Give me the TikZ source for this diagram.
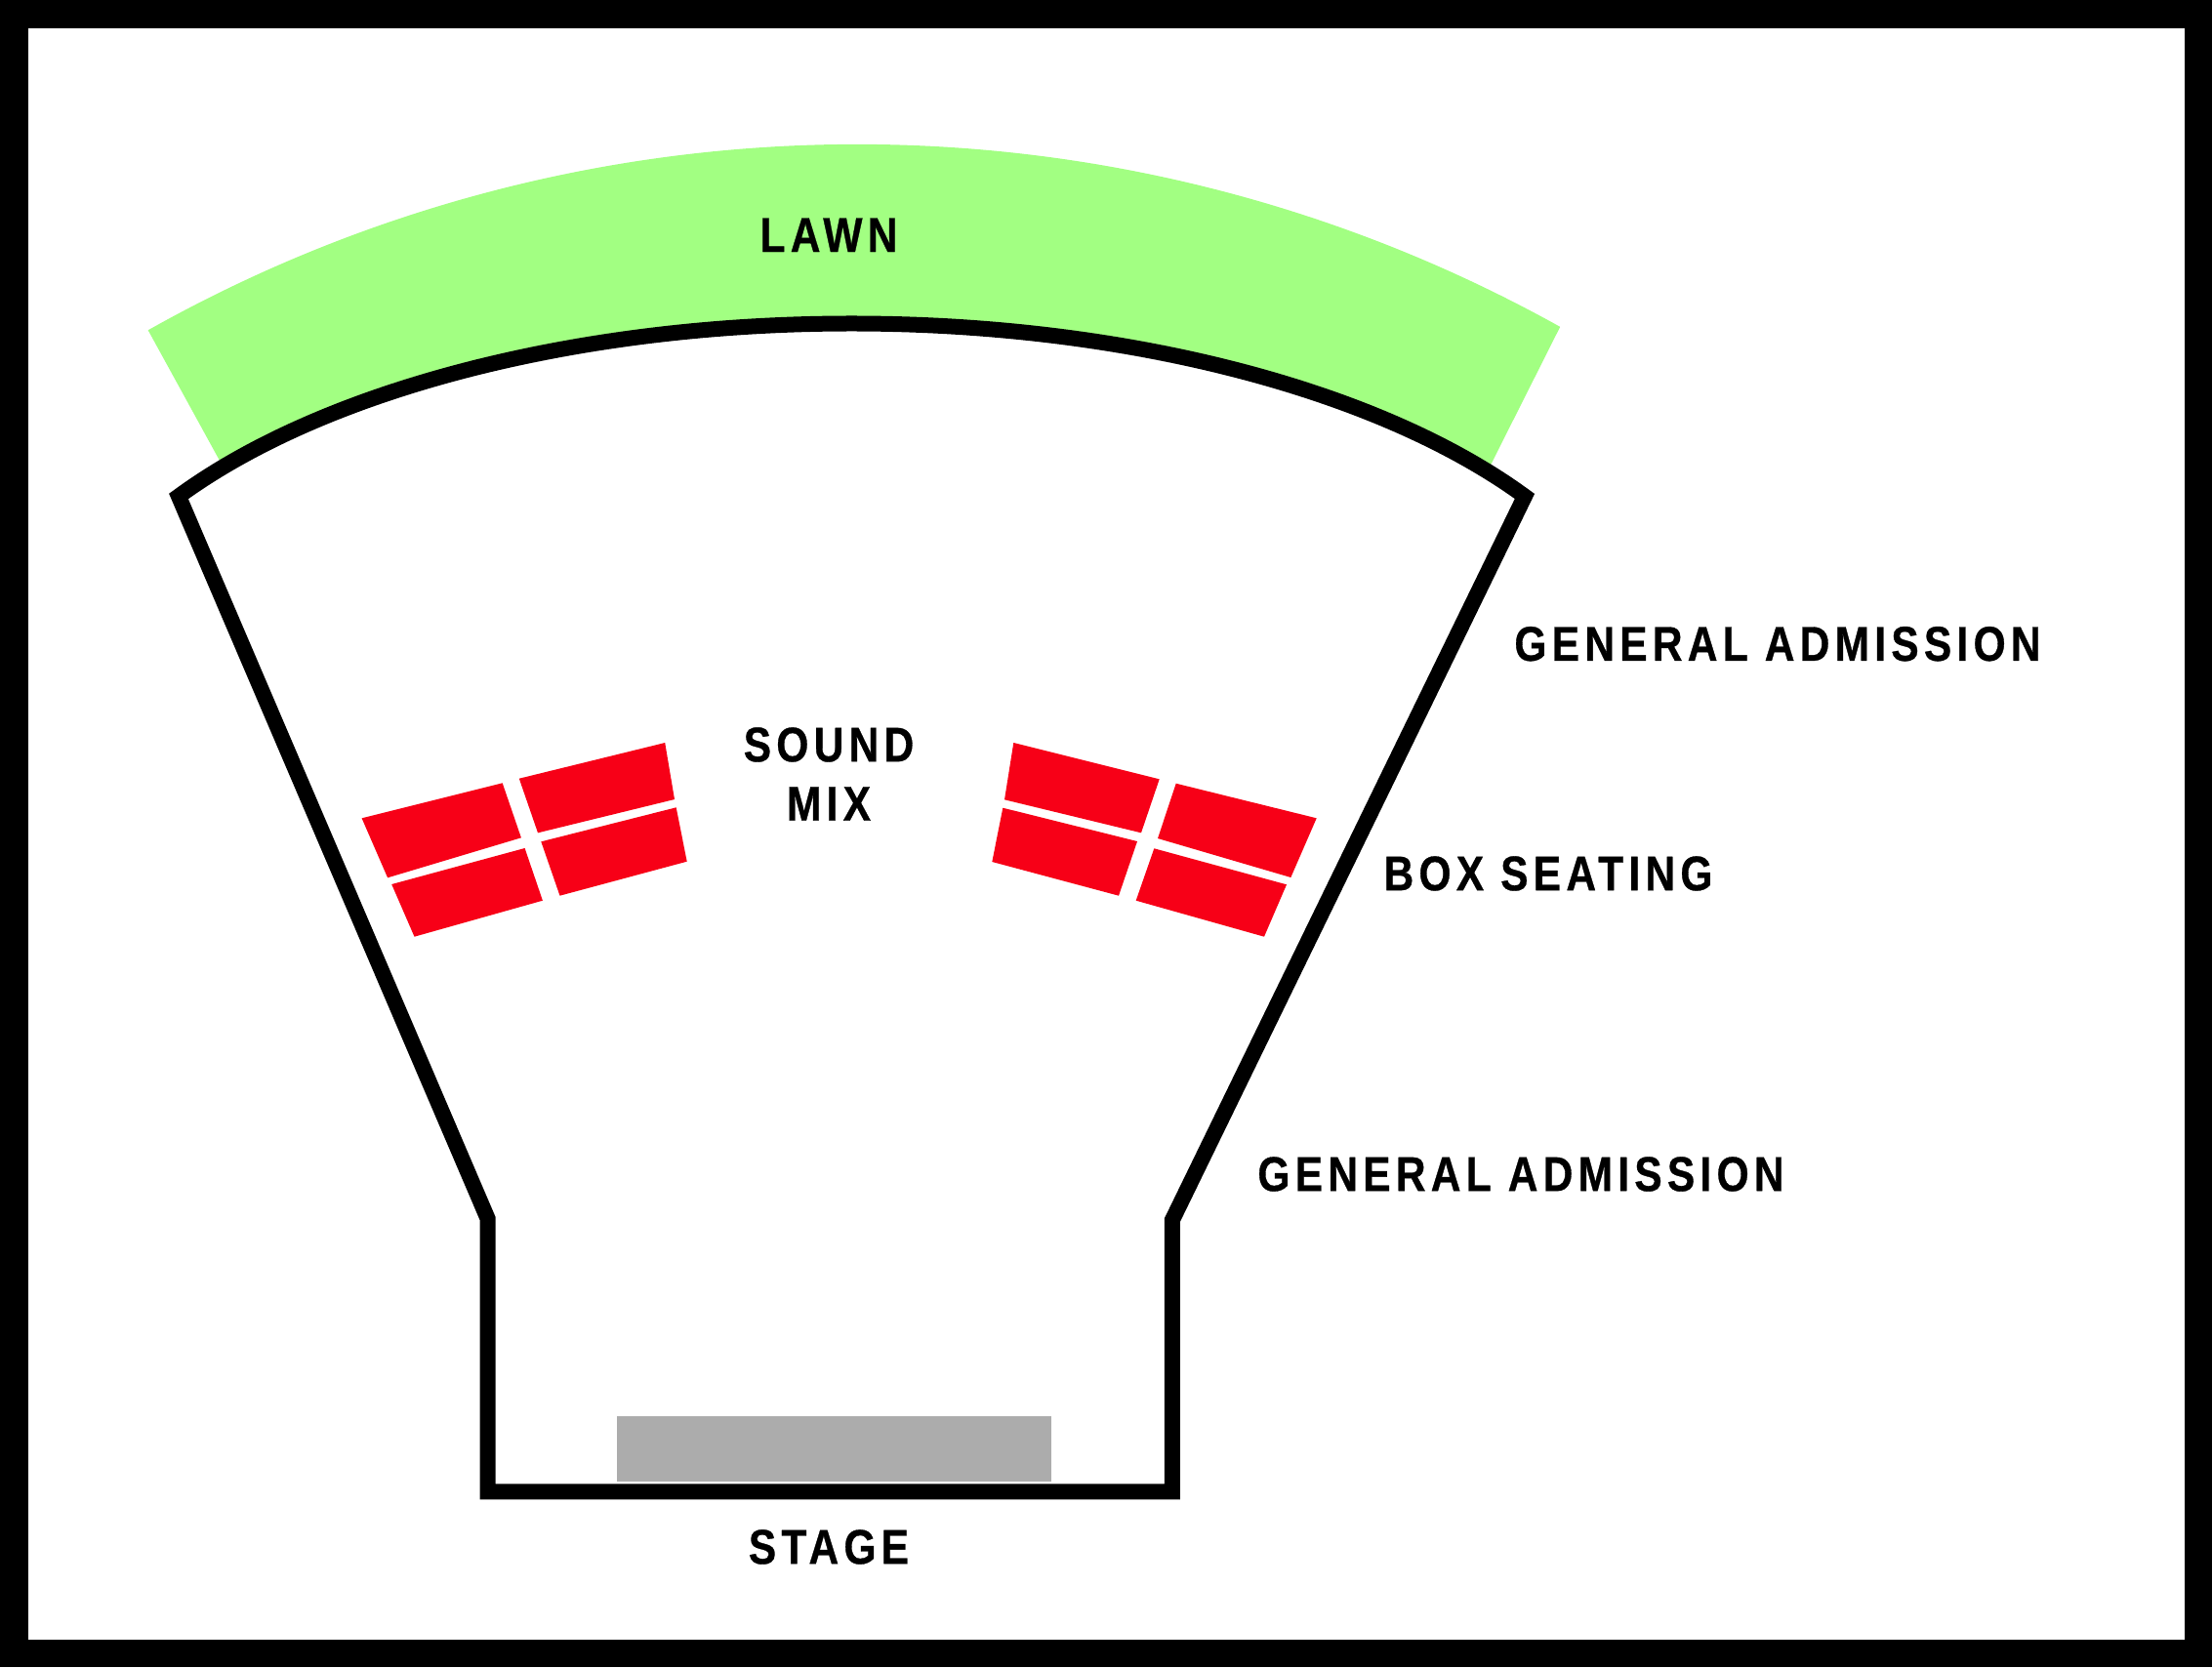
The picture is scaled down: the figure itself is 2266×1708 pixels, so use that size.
\documentclass[tikz,border=0pt]{standalone}
\usepackage{fontspec}
\setmainfont{Liberation Sans}
\newfontfamily\lblfont[FakeStretch=0.85,LetterSpace=10.5,FakeBold=0.6]{Liberation Sans}
\definecolor{lawngreen}{RGB}{162,255,130}
\definecolor{boxred}{RGB}{247,0,23}
\definecolor{stagegray}{RGB}{172,172,172}
\begin{document}
\begin{tikzpicture}[x=1pt,y=-1pt,
  lbl/.style={font=\lblfont\bfseries\fontsize{50}{60}\selectfont, inner sep=0pt, anchor=center},
  outline/.style={draw=black, line width=16pt, line join=miter},
  seat/.style={fill=boxred},
  frame/.style={draw=black, line width=28.5pt}]
\useasboundingbox (0,0) rectangle (2266,1708);
\fill[white] (0,0) rectangle (2266,1708);
\draw[frame] (14.25,14.25) rectangle (2251.75,1693.75);
% lawn
\fill[lawngreen] (151.7,338.3) arc[start angle=-119.39, end angle=-60.88, radius=1480]
  -- (1523.8,482.8) arc[start angle=-37.42, end angle=-141.76, x radius=820, y radius=385.9] -- cycle;
% stage
\fill[stagegray] (632.4,1450.7) rectangle (1077.3,1518.3);
% outline
\draw[outline] (499.5,1528.3) -- (499.5,1248.3) -- (183,508.5)
  arc[start angle=-147.23, end angle=-32.77, x radius=820, y radius=385.9]
  -- (1200.9,1250) -- (1200.9,1528.3) -- cycle;
% box seating
\fill[seat] (370.6,838.3) -- (514.7,802.3) -- (533.9,858.3) -- (397.1,899.3) -- cycle;
\fill[seat] (531.8,797.7) -- (681.2,761) -- (691,819) -- (551,853.3) -- cycle;
\fill[seat] (401.2,906) -- (537.6,869) -- (555.9,922.7) -- (424.5,959.7) -- cycle;
\fill[seat] (554.3,862.3) -- (692.7,827.3) -- (703.7,882.7) -- (573.5,917.7) -- cycle;
\fill[seat] (1038.3,761) -- (1187.7,798.3) -- (1169,853.3) -- (1029,819.3) -- cycle;
\fill[seat] (1204.7,802.7) -- (1348.7,838.3) -- (1322.3,899) -- (1186,859) -- cycle;
\fill[seat] (1027.3,827.7) -- (1165,862) -- (1146,917.7) -- (1016.3,883) -- cycle;
\fill[seat] (1182.3,869.3) -- (1318,906.3) -- (1295,959.7) -- (1163.7,922.7) -- cycle;
% labels
\node[lbl] (lawn) at (849,240.8) {LAWN};
\node[lbl] (ga1) at (1821,659.7) {GENERAL ADMISSION};
\node[lbl] (sound) at (849,763) {SOUND};
\node[lbl] (mix) at (849,823.5) {MIX};
\node[lbl] (box) at (1586,895) {BOX SEATING};
\node[lbl] (ga2) at (1558,1203) {GENERAL ADMISSION};
\node[lbl] (stage) at (849,1585) {STAGE};
\end{tikzpicture}
\end{document}
